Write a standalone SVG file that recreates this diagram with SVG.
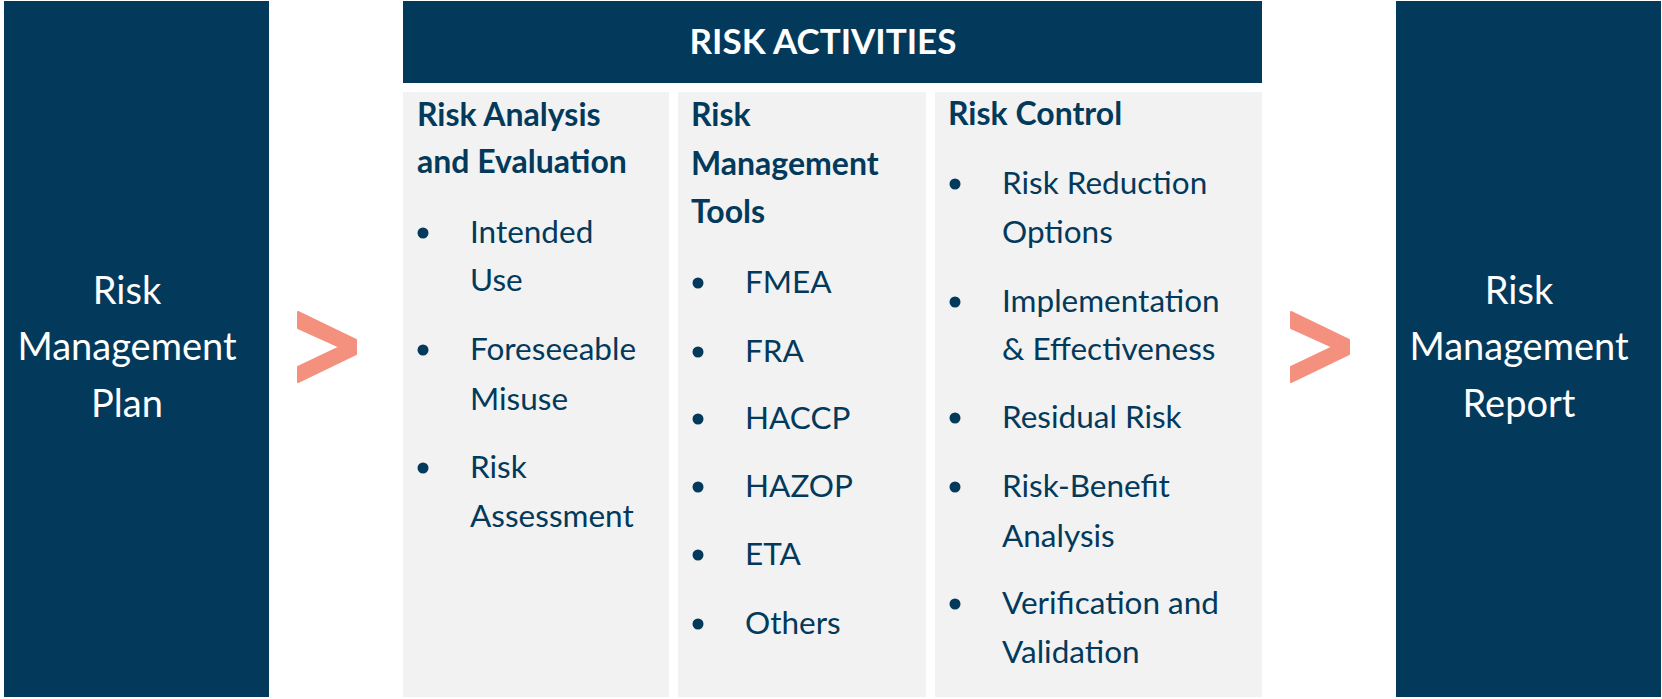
<svg xmlns="http://www.w3.org/2000/svg" width="1662" height="699" viewBox="0 0 1662 699">
  <style>
    .navy { fill: #033A5B; }
    .panel { fill: #F2F2F2; }
    .box-text { font-family: Lato, "Liberation Sans", sans-serif; font-size: 38px; fill: #FFFFFF; text-anchor: middle; }
    .title { font-family: Lato, "Liberation Sans", sans-serif; font-size: 35px; font-weight: bold; fill: #FFFFFF; text-anchor: middle; }
    .head { font-family: Lato, "Liberation Sans", sans-serif; font-size: 32px; font-weight: bold; fill: #033A5B; }
    .item { font-family: Lato, "Liberation Sans", sans-serif; font-size: 31.5px; fill: #033A5B; }
    .bullet { fill: #033A5B; }
    .chev { fill: #F4917E; stroke: #F4917E; stroke-width: 2; stroke-linejoin: round; }
  </style>
  <defs>
    <path id="chevron" d="M0,0 L58,28 L58,42 L0,70 L0,55 L42,35 L0,16 Z"/>
  </defs>
  <rect width="1662" height="699" fill="#FFFFFF"/>

  <g id="plan">
    <rect class="navy" x="4" y="1" width="265" height="696"/>
    <text class="box-text" x="127" y="304">Risk</text>
    <text class="box-text" x="127" y="360">Management</text>
    <text class="box-text" x="127" y="417">Plan</text>
  </g>

  <g id="activities-header">
    <rect class="navy" x="403" y="1" width="859" height="82"/>
    <text class="title" x="823" y="54">RISK ACTIVITIES</text>
  </g>

  <g id="analysis">
    <rect class="panel" x="403" y="92" width="266" height="605"/>
    <text class="head" x="417" y="126">Risk Analysis</text>
    <text class="head" x="417" y="173">and Evaluation</text>
    <circle class="bullet" cx="423" cy="233" r="5.5"/>
    <text class="item" x="470" y="243">Intended</text>
    <text class="item" x="470" y="291">Use</text>
    <circle class="bullet" cx="423" cy="350" r="5.5"/>
    <text class="item" x="470" y="360">Foreseeable</text>
    <text class="item" x="470" y="410">Misuse</text>
    <circle class="bullet" cx="423" cy="468" r="5.5"/>
    <text class="item" x="470" y="478">Risk</text>
    <text class="item" x="470" y="527">Assessment</text>
  </g>

  <g id="tools">
    <rect class="panel" x="678" y="92" width="248" height="605"/>
    <text class="head" x="691" y="126">Risk</text>
    <text class="head" x="691" y="175">Management</text>
    <text class="head" x="691" y="223">Tools</text>
    <circle class="bullet" cx="698" cy="283" r="5.5"/>
    <text class="item" x="745" y="293">FMEA</text>
    <circle class="bullet" cx="698" cy="352" r="5.5"/>
    <text class="item" x="745" y="362">FRA</text>
    <circle class="bullet" cx="698" cy="419" r="5.5"/>
    <text class="item" x="745" y="429">HACCP</text>
    <circle class="bullet" cx="698" cy="487" r="5.5"/>
    <text class="item" x="745" y="497">HAZOP</text>
    <circle class="bullet" cx="698" cy="555" r="5.5"/>
    <text class="item" x="745" y="565">ETA</text>
    <circle class="bullet" cx="698" cy="624" r="5.5"/>
    <text class="item" x="745" y="634">Others</text>
  </g>

  <g id="control">
    <rect class="panel" x="935" y="92" width="327" height="605"/>
    <text class="head" x="948" y="125">Risk Control</text>
    <circle class="bullet" cx="955" cy="184" r="5.5"/>
    <text class="item" x="1002" y="194">Risk Reduction</text>
    <text class="item" x="1002" y="243">Options</text>
    <circle class="bullet" cx="955" cy="302" r="5.5"/>
    <text class="item" x="1002" y="312">Implementation</text>
    <text class="item" x="1002" y="360">&amp; Effectiveness</text>
    <circle class="bullet" cx="955" cy="418" r="5.5"/>
    <text class="item" x="1002" y="428">Residual Risk</text>
    <circle class="bullet" cx="955" cy="487" r="5.5"/>
    <text class="item" x="1002" y="497">Risk-Benefit</text>
    <text class="item" x="1002" y="547">Analysis</text>
    <circle class="bullet" cx="955" cy="604" r="5.5"/>
    <text class="item" x="1002" y="614">Verification and</text>
    <text class="item" x="1002" y="663">Validation</text>
  </g>

  <g id="report">
    <rect class="navy" x="1396" y="1" width="265" height="696"/>
    <text class="box-text" x="1519" y="304">Risk</text>
    <text class="box-text" x="1519" y="360">Management</text>
    <text class="box-text" x="1519" y="417">Report</text>
  </g>

  <g id="connectors">
    <use href="#chevron" class="chev" x="298" y="312"/>
    <use href="#chevron" class="chev" x="1291" y="312"/>
  </g>
</svg>
